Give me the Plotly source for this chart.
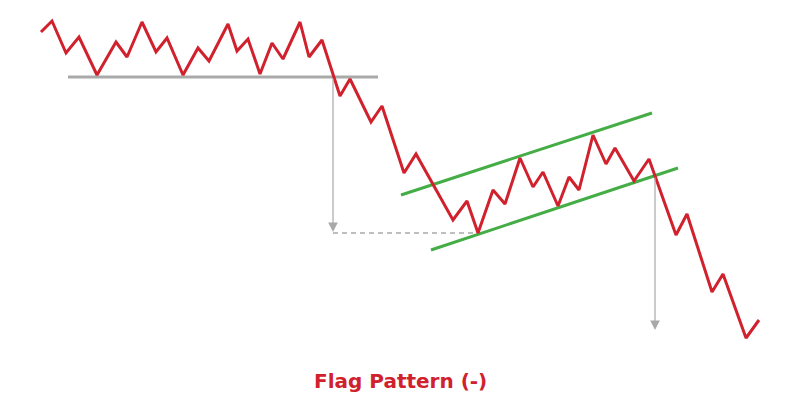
import plotly.graph_objects as go

# Price path (time index, price)
time = [41, 52, 66, 79, 97, 116, 127, 142, 156, 167, 183, 198, 209, 228, 237, 248, 260, 272, 283, 300,
        309, 322, 340, 350, 371, 382, 404, 416, 453, 467, 478, 493, 505, 520, 533, 543, 558, 569, 579, 593,
        606, 615, 634, 649, 676, 687, 712, 723, 746, 759]
price = [368, 379, 347, 363, 325, 358, 343, 378, 348, 362, 325, 352, 339, 376, 349, 361, 326, 357, 341, 378,
         343, 360, 304, 321, 278, 294, 227, 246, 180, 199, 167, 210, 196, 242, 213, 228, 194, 223, 210, 265,
         236, 252, 219, 241, 165, 186, 108, 126, 62, 80]

# Support level (gray)
support_time = [68, 378]
support_price = [323, 323]

# Flag channel (green)
upper_time = [401, 652]
upper_price = [205, 287]
lower_time = [431, 678]
lower_price = [150, 232]

# Measured moves
pole_arrow = {"t": 333, "from": 323, "to": 168}
dash_time = [333, 478]
dash_price = [167, 167]
target_arrow = {"t": 655, "from": 224, "to": 70}

title_text = "Flag Pattern (-)"

RED = "#d0212d"
GREEN = "#45ad46"
GRAY = "#a9a9a9"

fig = go.Figure()
fig.add_trace(go.Scatter(x=support_time, y=support_price, mode="lines",
                         line=dict(color=GRAY, width=3), hoverinfo="skip"))
fig.add_trace(go.Scatter(x=dash_time, y=dash_price, mode="lines",
                         line=dict(color=GRAY, width=1.5, dash="5px,4px"), hoverinfo="skip"))
fig.add_trace(go.Scatter(x=upper_time, y=upper_price, mode="lines",
                         line=dict(color=GREEN, width=3), hoverinfo="skip"))
fig.add_trace(go.Scatter(x=lower_time, y=lower_price, mode="lines",
                         line=dict(color=GREEN, width=3), hoverinfo="skip"))
fig.add_trace(go.Scatter(x=time, y=price, mode="lines",
                         line=dict(color=RED, width=3), hoverinfo="skip"))

for a in (pole_arrow, target_arrow):
    fig.add_annotation(x=a["t"], y=a["to"], ax=a["t"], ay=a["from"],
                       xref="x", yref="y", axref="x", ayref="y",
                       showarrow=True, arrowhead=2, arrowsize=1.6, arrowwidth=1.2,
                       arrowcolor=GRAY, text="")

fig.add_annotation(x=400, y=19, xref="x", yref="y", text="<b>" + title_text + "</b>",
                   showarrow=False, font=dict(family="DejaVu Sans", size=20, color=RED))

fig.update_layout(
    width=800, height=400, margin=dict(l=0, r=0, t=0, b=0),
    paper_bgcolor="white", plot_bgcolor="white", showlegend=False,
    xaxis=dict(range=[8, 808], visible=False, fixedrange=True),
    yaxis=dict(range=[-8, 392], visible=False, fixedrange=True),
)

fig.write_html("out.html")
